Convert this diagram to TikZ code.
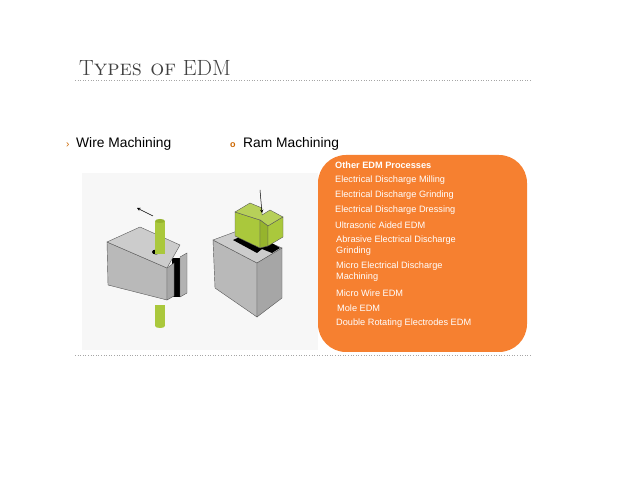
\documentclass[tikz,border=0pt]{standalone}
\usepackage{fontspec}
\setsansfont{Liberation Sans}
\definecolor{elec}{RGB}{170,200,60}
\definecolor{elecd}{RGB}{150,180,45}
\definecolor{orbox}{RGB}{246,128,48}
\begin{document}
\begin{tikzpicture}[x=1pt,y=-1pt,
  gface/.style={fill=#1,draw=gray!70!black,line width=0.4pt},
  dotline/.style={draw=gray!70,dotted,line width=0.6pt},
  lst/.style={anchor=west,text=white,font=\sffamily\fontsize{9.2}{10.5}\selectfont,inner sep=0pt},
  bul/.style={anchor=west,font=\sffamily\fontsize{13.8}{15}\selectfont,inner sep=0pt}]
\useasboundingbox (0,0) rectangle (638,478);
\node[anchor=base west,inner sep=0pt,text=black!75,font=\rmfamily\fontsize{22}{24}\selectfont] (title) at (79,76) {T\textsc{ypes of} EDM};
\draw[dotline] (75,80) -- (532,80);
\draw[dotline] (75,355) -- (532,355);
\node[bul,text=orange!80!black,font=\sffamily\fontsize{10}{12}\selectfont] (b1) at (66,145) {›};
\node[bul] (t1) at (76,144) {Wire Machining};
\node[bul,text=orange!80!black,font=\sffamily\bfseries\fontsize{9}{10}\selectfont] (b2) at (230,145) {o};
\node[bul] (t2) at (243,144) {Ram Machining};
% image background
\fill[gray!6] (82,173) rectangle (318,350);
% wire machining
\fill[elec] (155,305) rectangle (165,326);
\fill[elec] (160,326) ellipse (5 and 2);
\fill[black] (172,258) -- (180,258) -- (180,297) -- (172,297) -- cycle;
\draw[gface=gray!55] (107,242) -- (167,268) -- (167,300) -- (108,285) -- cycle;
\draw[gface=gray!40] (107,242) -- (140,227) -- (180,245) -- (167,268) -- cycle;
\draw[gface=gray!70] (167,268) -- (174,263) -- (174,296) -- (167,300) -- cycle;
\draw[gface=gray!60] (180,257) -- (187,253) -- (187,293) -- (180,297) -- cycle;
\fill[black] (156,252) ellipse (4 and 2.5);
\fill[elec] (155,221) rectangle (165,254);
\fill[elecd] (160,221) ellipse (5 and 2);
\draw[-stealth,line width=0.5pt] (153,216) -- (137,208);
% ram machining
\draw[gface=gray!55] (213,240) -- (257,263) -- (257,317) -- (215,288) -- cycle;
\draw[gface=gray!40] (213,240) -- (240,230) -- (282,248) -- (257,263) -- cycle;
\draw[gface=gray!70] (257,263) -- (282,248) -- (282,298) -- (257,317) -- cycle;
\fill[black] (233,240) -- (242,236) -- (262,245) -- (270,242) -- (280,248) -- (272,253) -- (262,249) -- (257,253) -- cycle;
\draw[gface=elec] (235,212) -- (235,236) -- (260,248) -- (260,220) -- cycle;
\draw[gface=elec!85!white] (235,212) -- (250,203) -- (262,208) -- (262,215) -- (270,210) -- (283,217) -- (268,226) -- (260,220) -- cycle;
\draw[gface=elecd] (260,220) -- (268,226) -- (268,246) -- (260,248) -- cycle;
\draw[gface=elec] (268,226) -- (283,217) -- (283,237) -- (268,246) -- cycle;
\draw[-stealth,line width=0.5pt] (260,190) -- (262,213);
% orange box
\fill[orbox, rounded corners=28pt] (318,155) rectangle (527,352);
\node[lst,font=\sffamily\bfseries\fontsize{9.2}{9.5}\selectfont] (h) at (335,165) {Other EDM Processes};
\node[lst] (l1) at (335,180) {Electrical Discharge Milling};
\node[lst] (l2) at (335,195) {Electrical Discharge Grinding};
\node[lst] (l3) at (335,210) {Electrical Discharge Dressing};
\node[lst] (l4) at (335,225) {Ultrasonic Aided EDM};
\node[lst,align=left,anchor=north west] (l5) at (336,236) {Abrasive Electrical Discharge\\Grinding};
\node[lst,align=left,anchor=north west] (l6) at (336,262) {Micro Electrical Discharge\\Machining};
\node[lst] (l7) at (336,293) {Micro Wire EDM};
\node[lst] (l8) at (337,308) {Mole EDM};
\node[lst] (l9) at (336,323) {Double Rotating Electrodes EDM};
\end{tikzpicture}
\end{document}
